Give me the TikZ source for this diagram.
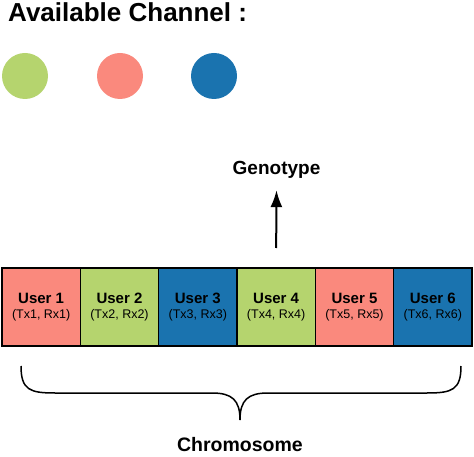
\documentclass[tikz,border=0pt]{standalone}
\usepackage{fontspec}
\setmainfont{Liberation Sans}
\usetikzlibrary{positioning,arrows.meta}

\definecolor{chgreen}{RGB}{181,212,110}
\definecolor{chpink}{RGB}{250,137,125}
\definecolor{chblue}{RGB}{26,115,175}

\begin{document}
\begin{tikzpicture}[x=1pt, y=-1pt, >={Latex[length=17pt,width=12pt]},
  chan/.style={circle,minimum size=46pt,inner sep=0pt},
  userbox/.style={draw,line width=1.5pt,minimum width=78.33pt,minimum height=78pt,
    inner sep=0pt,outer sep=0pt,align=center},
  bigtext/.style={font=\bfseries\fontsize{#1}{#1}\selectfont,inner sep=0pt}]
  \useasboundingbox (0,0) rectangle (474,457);
  % available channels
  \node[bigtext=26, anchor=base west] (title) at (8,22) {Available Channel :};
  \node[chan,fill=chgreen] (ch1) at (25,76) {};
  \node[chan,fill=chpink] (ch2) at (120,76) {};
  \node[chan,fill=chblue] (ch3) at (214,76) {};
  % chromosome of six users
  \node[userbox,fill=chpink] (user1) at (41.17,307)
    {{\bfseries\fontsize{15}{18}\selectfont User 1}\\[3pt]{\fontsize{12.5}{15}\selectfont (Tx1, Rx1)}};
  \foreach \i/\col in {2/chgreen,3/chblue,4/chgreen,5/chpink,6/chblue}{
    \pgfmathtruncatemacro\prev{\i-1}
    \node[userbox,fill=\col,right=0pt of user\prev] (user\i)
      {{\bfseries\fontsize{15}{18}\selectfont User \i}\\[3pt]{\fontsize{12.5}{15}\selectfont (Tx\i, Rx\i)}};
  }
  % genotype arrow
  \node[bigtext=19, anchor=base] (geno) at (276.5,175) {Genotype};
  \coordinate (genofoot) at ([yshift=20pt]user4.north);
  \draw[->, line width=2pt] (genofoot) -- ([yshift=-11pt]geno.south);
  % brace
  \coordinate (bracel) at (21,366);
  \coordinate (bracer) at (461,366);
  \coordinate (bracetip) at (240,420);
  \draw[line width=1.5pt] (bracel) .. controls (21,390) and (30,393) .. (55,393) -- (212,393)
    .. controls (232,393) and (240,400) .. (bracetip)
    .. controls (240,400) and (248,393) .. (268,393) -- (427,393)
    .. controls (452,393) and (461,390) .. (bracer);
  \node[bigtext=19.5, anchor=base] (chromo) at (240,451) {Chromosome};
\end{tikzpicture}
\end{document}
